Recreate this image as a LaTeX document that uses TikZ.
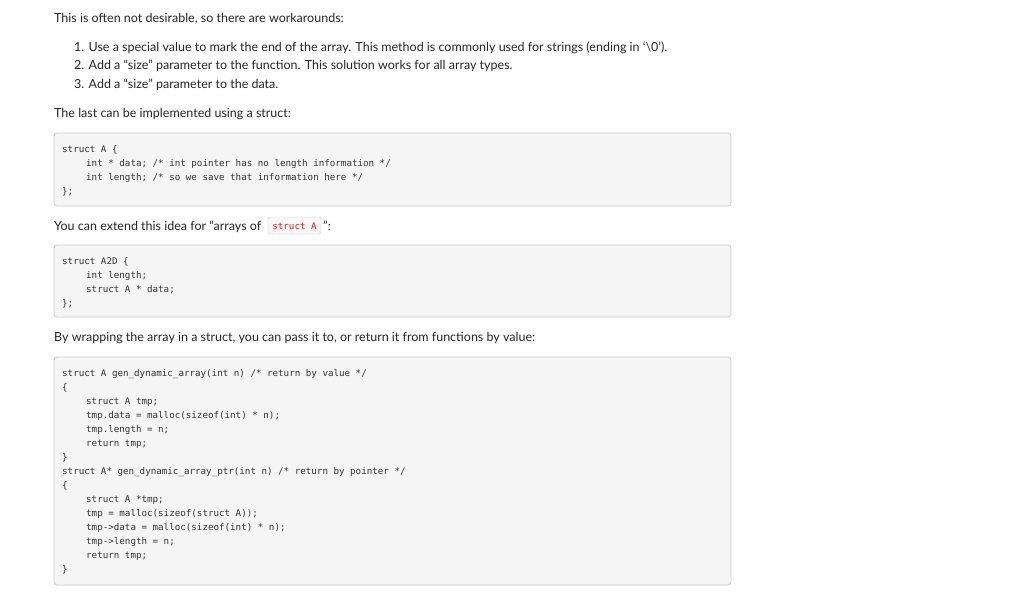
\documentclass[tikz,border=0pt]{standalone}
\usepackage{fontspec}
\setmainfont{Lato}
\setmonofont{DejaVu Sans Mono}
\begin{document}
\begin{tikzpicture}[x=1pt,y=-1pt,
  txt/.style={anchor=base west,inner sep=0pt,font=\fontsize{12.5}{14}\selectfont,text=black!85},
  code/.style={anchor=base west,inner sep=0pt,font=\ttfamily\fontsize{9.2}{11}\selectfont,text=black!80},
  codebox/.style={draw=black!20,fill=black!4,rounded corners=3pt,line width=0.8pt}]
\useasboundingbox[fill=white] (0,0) rectangle (1024,597);
\node[txt] (t1) at (54,22) {This is often not desirable, so there are workarounds:};
\node[txt] (l1) at (74,51) {1. Use a special value to mark the end of the array. This method is commonly used for strings (ending in `\textbackslash 0').};
\node[txt] (l2) at (74,69) {2. Add a ``size'' parameter to the function. This solution works for all array types.};
\node[txt] (l3) at (74,88) {3. Add a ``size'' parameter to the data.};
\node[txt] (t2) at (54,117) {The last can be implemented using a struct:};
\draw[codebox] (54,133) rectangle (731,206);
\node[code] (c1) at (62,152) {struct A \{};
\node[code] (c2) at (86,166) {int * data; /* int pointer has no length information */};
\node[code] (c3) at (86,180) {int length; /* so we save that information here */};
\node[code] (c4) at (62,194) {\};};
\node[txt] (t3) at (54,230) {You can extend this idea for ``arrays of};
\draw[draw=black!20,fill=black!3,rounded corners=2pt] (268,217) rectangle (321,234);
\node[code,text={rgb,255:red,200;green,40;blue,40},anchor=base] (ic) at (294.5,229) {struct A};
\node[txt] (t3b) at (323,230) {'':};
\draw[codebox] (54,245) rectangle (731,317);
\node[code] (d1) at (62,264) {struct A2D \{};
\node[code] (d2) at (86,278) {int length;};
\node[code] (d3) at (86,292) {struct A * data;};
\node[code] (d4) at (62,306) {\};};
\node[txt] (t4) at (54,341) {By wrapping the array in a struct, you can pass it to, or return it from functions by value:};
\draw[codebox] (54,357) rectangle (731,585);
\foreach \i/\x/\s in {0/62/{struct A gen\_dynamic\_array(int n) /* return by value */},
  1/62/{\{},2/86/{struct A tmp;},3/86/{tmp.data = malloc(sizeof(int) * n);},
  4/86/{tmp.length = n;},5/86/{return tmp;},6/62/{\}},
  7/62/{struct A* gen\_dynamic\_array\_ptr(int n) /* return by pointer */},
  8/62/{\{},9/86/{struct A *tmp;},10/86/{tmp = malloc(sizeof(struct A));},
  11/86/{tmp->data = malloc(sizeof(int) * n);},12/86/{tmp->length = n;},
  13/86/{return tmp;},14/62/{\}}}
  \node[code] (e\i) at (\x,376+14.07*\i) {\s};
\end{tikzpicture}
\end{document}
